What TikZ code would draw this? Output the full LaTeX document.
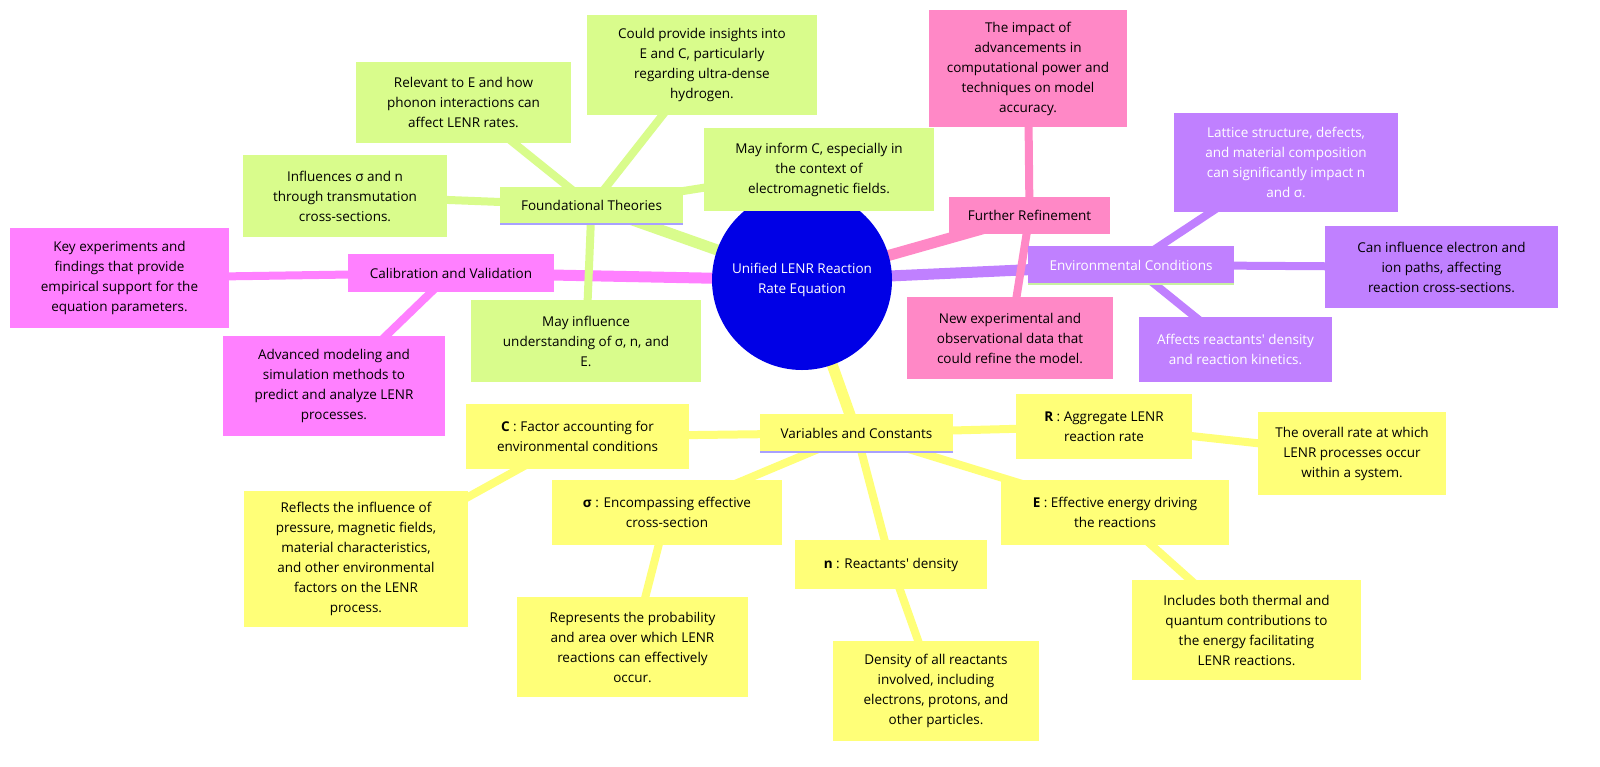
\documentclass[tikz,border=0pt]{standalone}
\usepackage{fontspec}
\setmainfont{Open Sans}
\definecolor{colg}{HTML}{D9FC8C}
\definecolor{colm}{HTML}{FF80FF}
\definecolor{colp}{HTML}{FF88C6}
\definecolor{colu}{HTML}{C080FF}
\definecolor{coly}{HTML}{FFFF78}
\definecolor{colr}{HTML}{0000E6}
\definecolor{colul}{HTML}{A8A0FF}
\definecolor{colug}{HTML}{C8F0A0}
\newcommand\bx[7]{\node[bx,fill=#6,minimum width=#4pt,minimum height=#5pt] (#1) at (#2,#3) {#7};}
\newcommand\qs{\textquotesingle}
\begin{document}
\begin{tikzpicture}[x=1pt,y=-1pt,
  every node/.style={font=\fontsize{13.5}{20}\selectfont, align=center, inner sep=0pt, outer sep=0pt},
  bx/.style={rectangle, draw=none},
  e1/.style={line width=11pt},
  e2/.style={line width=8pt}]
\useasboundingbox (0,0) rectangle (1600,766);
\fill[white] (0,0) rectangle (1600,766);
\coordinate (root) at (802,280);
\coordinate (ftp) at (591.5,205.5); \coordinate (cvp) at (451,273);
\coordinate (frp) at (1029.5,215.5); \coordinate (ecp) at (1131,265);
\coordinate (vcp) at (856.5,433);
\coordinate (c1p) at (702,65); \coordinate (c2p) at (463.5,102.5); \coordinate (c3p) at (345,196);
\coordinate (c4p) at (819,169.5); \coordinate (c5p) at (586,341);
\coordinate (k1p) at (119.5,278); \coordinate (k2p) at (334,386);
\coordinate (f1p) at (1028,68.5); \coordinate (f2p) at (1010,338);
\coordinate (e1p) at (1286,162.5); \coordinate (e2p) at (1441.5,267); \coordinate (e3p) at (1235.5,349.5);
\coordinate (vCp) at (577.5,436.5); \coordinate (vC1p) at (356,559);
\coordinate (vsp) at (667,512.5); \coordinate (vs1p) at (632.5,647);
\coordinate (vnp) at (891,564.5); \coordinate (vn1p) at (936,691);
\coordinate (vEp) at (1115,512.5); \coordinate (vE1p) at (1246.5,630);
\coordinate (vRp) at (1104,426.5); \coordinate (vR1p) at (1352,453.5);
% edges
\draw[e1,colg] (root)--(ftp); \draw[e1,colm] (root)--(cvp); \draw[e1,colp] (root)--(frp);
\draw[e1,colu] (root)--(ecp); \draw[e1,coly] (root)--(vcp);
\foreach \a in {c1p,c2p,c3p,c4p,c5p} \draw[e2,colg] (ftp)--(\a);
\foreach \a in {k1p,k2p} \draw[e2,colm] (cvp)--(\a);
\foreach \a in {f1p,f2p} \draw[e2,colp] (frp)--(\a);
\foreach \a in {e1p,e2p,e3p} \draw[e2,colu] (ecp)--(\a);
\foreach \a in {vCp,vsp,vnp,vEp,vRp} \draw[e2,coly] (vcp)--(\a);
\draw[e2,coly] (vCp)--(vC1p); \draw[e2,coly] (vsp)--(vs1p); \draw[e2,coly] (vnp)--(vn1p);
\draw[e2,coly] (vEp)--(vE1p); \draw[e2,coly] (vRp)--(vR1p);
% root
\node[circle,fill=colr,minimum size=180pt,text=white] (r) at (root) {Unified LENR Reaction\\Rate Equation};
% sections
\bx{ft}{591.5}{205.5}{183}{37}{colg}{Foundational Theories}
\draw[colul,line width=1.5pt] (ft.south west)--(ft.south east);
\bx{cv}{451}{273}{206}{38}{colm}{Calibration and Validation}
\bx{fr}{1029.5}{215.5}{161}{37}{colp}{Further Refinement}
\bx{ec}{1131}{265}{206}{38}{colu}{\textcolor{white}{Environmental Conditions}}
\draw[colug,line width=1.5pt] (ec.south west)--(ec.south east);
\bx{vc}{856.5}{433}{193}{38}{coly}{Variables and Constants}
\draw[colul,line width=1.5pt] (vc.south west)--(vc.south east);
% leaves
\bx{c1}{702}{65}{230}{100}{colg}{Could provide insights into\\E and C, particularly\\regarding ultra-dense\\hydrogen.}
\bx{c2}{463.5}{102.5}{215}{81}{colg}{Relevant to E and how\\phonon interactions can\\affect LENR rates.}
\bx{c3}{345}{196}{204}{82}{colg}{Influences σ and n\\through transmutation\\cross-sections.}
\bx{c4}{819}{169.5}{230}{83}{colg}{May inform C, especially in\\the context of\\electromagnetic fields.}
\bx{c5}{586}{341}{230}{82}{colg}{May influence\\understanding of σ, n, and\\E.}
\bx{k1}{119.5}{278}{219}{100}{colm}{Key experiments and\\findings that provide\\empirical support for the\\equation parameters.}
\bx{k2}{334}{386}{222}{100}{colm}{Advanced modeling and\\simulation methods to\\predict and analyze LENR\\processes.}
\bx{f1}{1028}{68.5}{198}{117}{colp}{The impact of\\advancements in\\computational power and\\techniques on model\\accuracy.}
\bx{f2}{1010}{338}{206}{82}{colp}{New experimental and\\observational data that\\could refine the model.}
\bx{e1}{1286}{162.5}{224}{99}{colu}{\color{white}Lattice structure, defects,\\\color{white}and material composition\\\color{white}can significantly impact n\\\color{white}and σ.}
\bx{e2}{1441.5}{267}{233}{82}{colu}{Can influence electron and\\ion paths, affecting\\reaction cross-sections.}
\bx{e3}{1235.5}{349.5}{193}{65}{colu}{\color{white}Affects reactants\qs\ density\\\color{white}and reaction kinetics.}
\bx{vC}{577.5}{436.5}{223}{65}{coly}{\textbf{C} : Factor accounting for\\environmental conditions}
\bx{vC1}{356}{559}{224}{136}{coly}{Reflects the influence of\\pressure, magnetic fields,\\material characteristics,\\and other environmental\\factors on the LENR\\process.}
\bx{vs}{667}{512.5}{230}{65}{coly}{\textbf{σ} : Encompassing effective\\cross-section}
\bx{vs1}{632.5}{647}{231}{100}{coly}{Represents the probability\\and area over which LENR\\reactions can effectively\\occur.}
\bx{vn}{891}{564.5}{192}{49}{coly}{\textbf{n} : Reactants\qs\ density}
\bx{vn1}{936}{691}{206}{100}{coly}{Density of all reactants\\involved, including\\electrons, protons, and\\other particles.}
\bx{vE}{1115}{512.5}{228}{65}{coly}{\textbf{E} : Effective energy driving\\the reactions}
\bx{vE1}{1246.5}{630}{229}{100}{coly}{Includes both thermal and\\quantum contributions to\\the energy facilitating\\LENR reactions.}
\bx{vR}{1104}{426.5}{176}{65}{coly}{\textbf{R} : Aggregate LENR\\reaction rate}
\bx{vR1}{1352}{453.5}{188}{83}{coly}{The overall rate at which\\LENR processes occur\\within a system.}
\end{tikzpicture}
\end{document}
